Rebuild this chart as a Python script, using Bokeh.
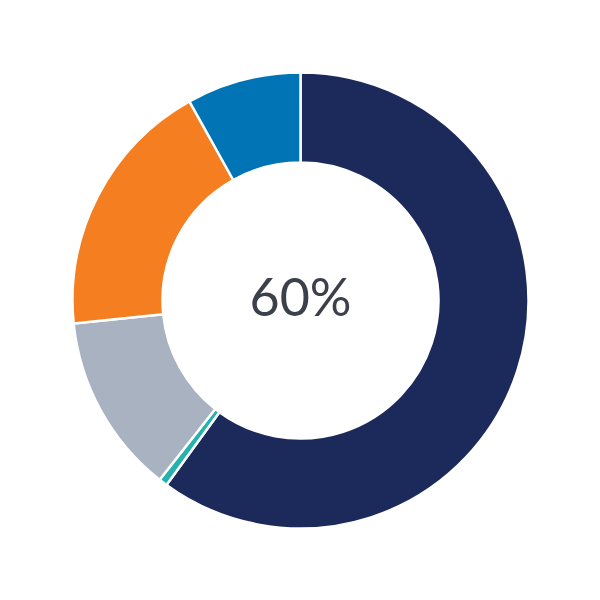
import numpy as np
from bokeh.plotting import figure
from bokeh.models import ColumnDataSource
from bokeh.core.properties import value
from bokeh.embed import file_html
from bokeh.resources import INLINE

categories = ["Navy", "Teal", "Gray", "Orange", "Blue"]
shares = [60.0, 0.6, 12.8, 18.5, 8.1]
colors = ["#1b2a5a", "#23b2ad", "#a8b2c1", "#f47e20", "#0174b5"]
center_label = "60%"

vals = np.array(shares)
frac = vals / vals.sum()
cum = np.concatenate([[0], np.cumsum(frac)])
start = np.pi / 2 - cum[:-1] * 2 * np.pi
end = np.pi / 2 - cum[1:] * 2 * np.pi

src = ColumnDataSource(dict(cat=categories, start=start, end=end, color=colors))

p = figure(width=584, height=584, x_range=(-300, 284), y_range=(-284, 300),
           output_backend="svg", toolbar_location=None, min_border=0)
p.annular_wedge(x=0, y=0, inner_radius=138, outer_radius=228,
                start_angle="start", end_angle="end", direction="clock",
                fill_color="color", line_color="white", line_width=2.5,
                source=src)
p.text(x=[0], y=[0], text=[center_label], text_align="center",
       text_baseline="middle", text_font=value("Lato"),
       text_font_size="52px", text_color="#3b404b", y_offset=-5)
p.axis.visible = False
p.grid.visible = False
p.outline_line_color = None
p.background_fill_color = "white"
p.border_fill_color = "white"

open("out.html", "w").write(file_html(p, INLINE))
